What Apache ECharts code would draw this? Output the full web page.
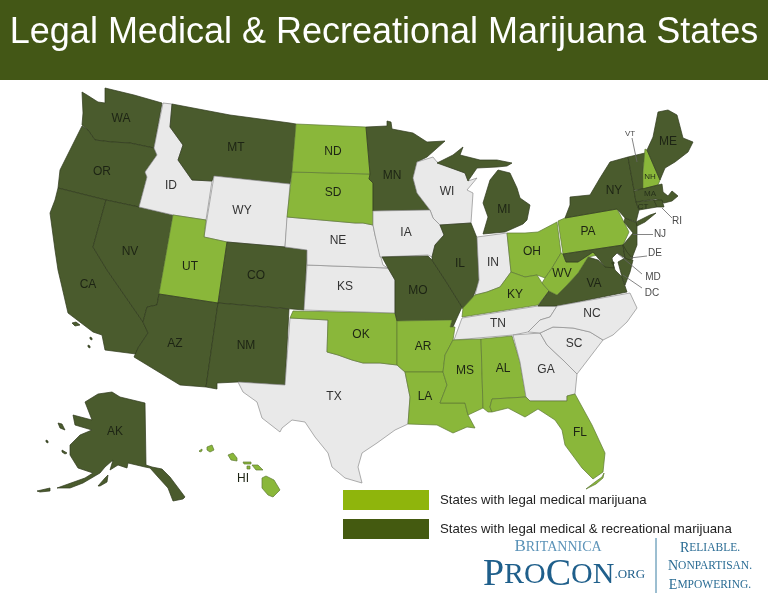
<!DOCTYPE html>
<html>
<head>
<meta charset="utf-8">
<script src="https://cdn.jsdelivr.net/npm/echarts@6/dist/echarts.min.js"></script>
<style>html,body{margin:0;background:#fff}#chart{width:768px;height:604px}</style>
</head>
<body>
<div id="chart"></div>
<script>
// Outlines, in picture pixels
const WA = [[[82,92],[87,95],[98,102],[105,103],[105,88],[134,95],[162,103],[154,148],[130,143],[112,142],[95,140],[88,130],[82,125],[83,113]]];
const OR = [[[82,126],[88,130],[95,140],[112,142],[130,143],[154,148],[157,155],[145,172],[147,177],[139,207],[106,200],[58,188],[60,170],[70,150]]];
const CA = [[[58,188],[106,200],[93,247],[107,270],[143,322],[148,333],[138,348],[136,354],[105,350],[102,335],[93,332],[68,313],[62,287],[58,270],[55,250],[50,213],[55,200]],
  [[72,323],[76,322],[80,325],[75,326]], [[90,337],[92,338],[92,340],[90,339]], [[88,345],[90,346],[90,348],[88,347]]];
const NV = [[[106,200],[139,207],[173,215],[159,294],[157,305],[147,307],[143,322],[107,270],[93,247]]];
const ID = [[[163,103],[172,104],[170,127],[183,145],[178,160],[192,180],[212,181],[206,220],[173,215],[139,207],[147,177],[145,172],[157,155],[154,148]]];
const MT = [[[172,104],[230,115],[290,123],[296,124],[292,172],[290,184],[214,176],[212,181],[192,180],[178,160],[183,145],[170,127]]];
const WY = [[[214,176],[290,184],[285,247],[227,242],[204,237]]];
const UT = [[[173,215],[206,220],[204,237],[227,242],[218,303],[159,294]]];
const CO = [[[227,242],[285,247],[307,250],[304,310],[280,308],[218,303]]];
const AZ = [[[159,294],[218,303],[206,387],[180,385],[134,357],[138,348],[148,333],[143,322],[147,307],[157,305]]];
const NM = [[[218,303],[289,309],[285,385],[238,382],[217,383],[217,389],[206,387]]];
const TX = [[[290,318],[328,320],[327,352],[338,355],[352,360],[363,363],[380,363],[397,365],[405,372],[410,397],[408,424],[395,430],[377,443],[362,453],[358,467],[362,483],[345,478],[332,467],[328,453],[315,437],[305,422],[292,420],[282,428],[280,432],[262,418],[257,402],[243,392],[238,382],[285,385]]];
const OK = [[[293,311],[395,313],[397,321],[397,365],[380,363],[363,363],[352,360],[338,355],[327,352],[328,320],[290,318]]];
const KS = [[[307,265],[388,268],[395,280],[395,313],[304,310]]];
const NE = [[[287,217],[355,223],[363,223],[373,225],[375,235],[383,265],[388,268],[307,265],[307,250],[285,247]]];
const SD = [[[292,172],[370,174],[369,179],[373,183],[373,225],[363,223],[355,223],[287,217]]];
const ND = [[[296,124],[366,127],[370,174],[292,172]]];
const MN = [[[366,127],[387,126],[387,121],[391,122],[392,129],[413,133],[427,142],[445,141],[427,157],[417,162],[413,178],[417,193],[430,210],[373,211],[373,183],[369,179],[370,174]]];
const WI = [[[417,162],[433,157],[437,162],[465,173],[468,181],[477,178],[467,190],[473,193],[471,223],[440,225],[433,218],[430,210],[417,193],[413,178]]];
const IA = [[[373,211],[430,210],[433,218],[440,225],[444,235],[435,245],[432,257],[428,255],[380,257],[375,235],[373,225]]];
const MO = [[[382,257],[428,256],[432,260],[447,283],[462,307],[457,318],[453,327],[450,327],[452,320],[397,321],[395,313],[395,280],[388,268]]];
const IL = [[[440,225],[471,223],[477,238],[479,282],[473,297],[468,307],[463,309],[462,307],[447,283],[432,260],[432,257],[435,245],[444,235]]];
const IN = [[[477,237],[507,233],[511,272],[500,287],[487,292],[475,295],[479,280]]];
const OH = [[[507,233],[525,233],[538,232],[557,222],[561,253],[552,268],[545,278],[537,275],[525,277],[511,272]]];
const KY = [[[511,272],[525,277],[537,275],[542,283],[549,291],[538,305],[462,317],[463,308],[475,295],[487,292],[500,287]]];
const TN = [[[462,318],[538,306],[557,306],[550,317],[540,320],[528,332],[513,335],[454,340]]];
const VA = [[[538,306],[549,291],[557,295],[567,285],[578,273],[588,257],[598,260],[605,267],[613,263],[615,270],[622,277],[627,292],[557,306]]];
const WV = [[[561,253],[563,254],[566,262],[578,262],[593,252],[598,255],[588,257],[578,273],[567,285],[557,295],[549,291],[542,283],[545,278],[552,268]]];
const PA = [[[558,221],[565,218],[617,209],[624,222],[629,232],[623,245],[563,254]]];
const MD = [[[563,254],[623,245],[625,258],[617,253],[612,258],[614,268],[605,267],[598,258],[593,252],[578,262],[566,262]],
  [[625,258],[633,260],[630,272],[625,285],[622,277],[618,262]]];
const DE = [[[623,245],[628,246],[633,258],[630,260],[625,258]]];
const DC = [[[612,262],[614,262],[614,264],[612,264]]];
const NJ = [[[625,218],[637,223],[637,245],[632,258],[627,252],[623,245],[633,233],[624,222]]];
const NY = [[[565,218],[570,205],[570,197],[590,195],[600,178],[610,162],[628,157],[634,190],[636,202],[639,210],[636,222],[625,218],[617,209]],
  [[636,222],[650,215],[656,213],[645,222],[637,226]]];
const VT = [[[628,157],[645,153],[643,170],[643,189],[634,190]]];
const NH = [[[645,149],[647,150],[660,180],[658,185],[643,189],[643,173]]];
const ME = [[[658,112],[668,110],[677,115],[683,138],[693,142],[688,152],[675,162],[665,168],[660,180],[647,150],[653,137]]];
const MA = [[[634,191],[658,185],[662,184],[663,192],[668,196],[672,191],[678,196],[672,201],[664,203],[656,199],[636,202]]];
const CT = [[[636,202],[654,200],[657,207],[639,210]]];
const RI = [[[654,200],[662,200],[664,207],[657,207]]];
const MI = [[[437,163],[453,155],[463,147],[460,155],[480,160],[497,160],[512,163],[507,166],[497,167],[477,168],[468,181],[465,173]],
  [[483,234],[488,217],[483,203],[490,180],[498,170],[510,173],[517,188],[520,198],[530,205],[527,220],[523,224],[505,232]]];
const AR = [[[397,321],[452,320],[450,327],[455,327],[453,340],[445,355],[443,372],[405,372],[397,365]]];
const LA = [[[405,372],[443,372],[447,385],[440,403],[465,403],[468,415],[475,428],[467,427],[453,433],[437,425],[408,424],[410,397]]];
const MS = [[[453,340],[481,339],[483,408],[468,415],[465,403],[440,403],[447,385],[443,372],[445,355]]];
const AL = [[[481,339],[512,336],[520,362],[526,397],[492,399],[490,407],[492,412],[488,412],[483,408]]];
const GA = [[[513,335],[540,333],[547,345],[563,360],[577,374],[575,394],[567,396],[567,401],[530,401],[526,397],[520,362]]];
const SC = [[[540,333],[553,327],[573,328],[590,332],[603,340],[577,374],[563,360],[547,345]]];
const NC = [[[557,306],[630,293],[637,308],[627,322],[613,335],[603,340],[590,332],[573,328],[553,327],[540,333],[528,332],[540,320],[550,317]]];
const FL = [[[492,399],[526,397],[530,401],[567,401],[567,396],[575,394],[592,425],[605,453],[603,472],[593,479],[582,468],[565,445],[562,430],[555,420],[538,409],[525,417],[508,408],[492,412],[490,407]],
  [[604,473],[603,478],[596,484],[586,489],[585,488],[595,482],[602,477]]];
const AK = [[[85,402],[98,394],[112,392],[120,397],[145,403],[146,465],[152,467],[162,469],[170,477],[185,497],[183,499],[173,501],[168,488],[158,477],[150,468],[145,467],[128,463],[127,468],[118,465],[110,470],[113,460],[105,467],[100,473],[83,483],[70,488],[57,488],[85,478],[93,473],[78,468],[70,455],[70,445],[80,435],[92,430],[75,425],[73,415],[92,420]],
  [[98,486],[105,478],[108,475],[107,482],[100,486]], [[37,491],[50,488],[50,491],[40,492]], [[62,450],[67,453],[65,454],[62,452]], [[58,423],[62,424],[65,430],[60,428]], [[46,440],[48,441],[48,443],[46,442]]];
const HI = [[[207,447],[212,445],[214,450],[210,452],[207,450]], [[199,451],[202,449],[202,451],[200,452]], [[228,455],[233,453],[237,458],[237,461],[231,460]],
  [[243,462],[251,462],[251,464],[244,464]], [[252,465],[258,465],[263,470],[262,471],[256,470]], [[247,466],[250,466],[250,469],[247,469]],
  [[262,478],[266,476],[274,480],[280,490],[273,497],[268,495],[262,488]]];

const OUTLINES = { WA, OR, CA, NV, ID, MT, WY, UT, CO, AZ, NM, TX, OK, KS, NE, SD, ND, MN, WI, IA, MO, IL, IN, OH, KY, TN, VA, WV, PA, MD, DE, DC, NJ, NY, VT, NH, ME, MA, CT, RI, MI, AR, LA, MS, AL, GA, SC, NC, FL, AK, HI };

// Status of each state
const medicalStates = ['ND', 'SD', 'UT', 'OK', 'AR', 'LA', 'MS', 'AL', 'FL', 'KY', 'OH', 'WV', 'PA', 'NH', 'HI'];
const recreationalStates = ['WA', 'OR', 'CA', 'NV', 'MT', 'CO', 'AZ', 'NM', 'MN', 'MO', 'IL', 'MI', 'VA', 'MD', 'DE', 'DC', 'NJ', 'NY', 'VT', 'ME', 'MA', 'CT', 'RI', 'AK'];

// Where each state's name sits, in picture pixels
const labelNames = ['WA','OR','CA','NV','ID','MT','WY','UT','CO','AZ','NM','ND','SD','NE','KS','OK','TX','MN','IA','MO','AR','LA','WI','IL','IN','MI','OH','KY','TN','MS','AL','GA','FL','SC','NC','VA','WV','PA','NY','ME','NH','MA','CT','AK','HI','VT','RI','NJ','DE','MD','DC'];
const labelX = [121,102,88,130,171,236,242,190,256,175,246,333,333,338,345,361,334,392,406,418,423,425,447,460,493,504,532,515,498,465,503,546,580,574,592,594,562,588,614,668,650,650,643,115,243,630,677,660,655,653,652];
const labelY = [119,172,285,252,186,148,211,267,276,344,346,152,193,241,287,335,397,176,233,291,347,397,192,264,263,210,252,295,324,371,369,370,433,344,314,284,274,232,191,142,177,194,207,432,479,134,221,234,253,277,293];
const insideLabels = ['NH', 'MA', 'CT', 'VT'];
const outsideLabels = ['RI', 'NJ', 'DE', 'MD', 'DC'];

// Leader lines for the small northeastern states
const leaderLines = [
  [[632,138],[637,162]],
  [[662,208],[672,218]],
  [[633,234],[653,234]],
  [[630,258],[647,256]],
  [[617,253],[642,274]],
  [[623,275],[642,288]],
];

const legendNames = ['States with legal medical marijuana', 'States with legal medical & recreational marijuana'];

const MEDIUM = '#8ab73a';
const DARK = '#4a5b2d';
const GREY = '#e9e9e9';

const features = Object.keys(OUTLINES).map(name => {
  const i = labelNames.indexOf(name);
  return {
    type: 'Feature',
    properties: { name, cp: [labelX[i], labelY[i]] },
    geometry: { type: 'MultiPolygon', coordinates: OUTLINES[name].map(ring => [ring]) },
  };
});
echarts.registerMap('usa', { type: 'FeatureCollection', features });

const regions = Object.keys(OUTLINES).map(name => {
  const isMedical = medicalStates.includes(name);
  const isRec = recreationalStates.includes(name);
  const inside = insideLabels.includes(name);
  const outside = outsideLabels.includes(name);
  return {
    name,
    itemStyle: {
      areaColor: isMedical ? MEDIUM : isRec ? DARK : GREY,
      borderColor: isMedical ? '#5f7a35' : isRec ? '#2f3a1c' : '#8c8c8c',
      borderWidth: 0.7,
    },
    label: {
      show: true,
      fontSize: inside ? 8 : outside ? 10 : 12,
      color: name === 'VT' || outside ? '#4a4a4a' : inside ? '#26301a' : (isMedical || isRec ? '#1d2414' : '#333'),
      fontFamily: 'Liberation Sans',
    },
  };
});

const chart = echarts.init(document.getElementById('chart'));
chart.setOption({
  animation: false,
  backgroundColor: '#fff',
  title: {
    text: 'Legal Medical & Recreational Marijuana States',
    left: 'center',
    top: 10,
    textStyle: { color: '#fff', fontSize: 36, fontWeight: 'normal', fontFamily: 'Liberation Sans' },
  },
  legend: {
    left: 338,
    top: 485,
    orient: 'vertical',
    itemWidth: 86,
    itemHeight: 20,
    itemGap: 9,
    icon: 'rect',
    selectedMode: false,
    textStyle: { fontSize: 13.2, color: '#222', fontFamily: 'Liberation Sans', padding: [0, 0, 0, 6] },
    data: legendNames,
  },
  geo: {
    map: 'usa',
    projection: { project: p => p, unproject: p => p },
    boundingCoords: [[0, 0], [768, 604]],
    left: 0,
    top: 0,
    width: 768,
    height: 604,
    roam: false,
    silent: true,
    label: { show: true },
    itemStyle: { areaColor: GREY },
    regions,
  },
  series: [
    { type: 'scatter', name: legendNames[0], coordinateSystem: 'geo', data: [], itemStyle: { color: '#8fb50c', opacity: 1 } },
    { type: 'scatter', name: legendNames[1], coordinateSystem: 'geo', data: [], itemStyle: { color: '#445a10', opacity: 1 } },
    {
      type: 'lines',
      coordinateSystem: 'geo',
      silent: true,
      symbol: 'none',
      lineStyle: { color: '#666', width: 0.8, opacity: 1, curveness: 0 },
      data: leaderLines.map(coords => ({ coords })),
      z: 5,
    },
  ],
  graphic: [
    { type: 'rect', shape: { x: 0, y: 0, width: 768, height: 80 }, style: { fill: '#435716' }, z: 0 },
    { type: 'line', shape: { x1: 656, y1: 538, x2: 656, y2: 593 }, style: { stroke: '#3b7ea3', lineWidth: 1 } },
    {
      type: 'text', x: 558, y: 547, z: 3,
      style: {
        text: '{a|B}{b|RITANNICA}', align: 'center', verticalAlign: 'middle',
        rich: {
          a: { fontFamily: 'Liberation Serif', fontSize: 17, fill: '#5c93b8' },
          b: { fontFamily: 'Liberation Serif', fontSize: 14, fill: '#5c93b8' },
        },
      },
    },
    {
      type: 'text', x: 564, y: 575, z: 3,
      style: {
        text: '{a|P}{b|RO}{a|C}{b|ON}{c|.ORG}', align: 'center', verticalAlign: 'middle',
        rich: {
          a: { fontFamily: 'Liberation Serif', fontSize: 38, fill: '#1f5f8b' },
          b: { fontFamily: 'Liberation Serif', fontSize: 30, fill: '#1f5f8b' },
          c: { fontFamily: 'Liberation Serif', fontSize: 13, fill: '#1f5f8b' },
        },
      },
    },
    ...[['R', 'ELIABLE.', 548], ['N', 'ONPARTISAN.', 566], ['E', 'MPOWERING.', 585]].map(([first, rest, y]) => ({
      type: 'text', x: 710, y, z: 3,
      style: {
        text: `{a|${first}}{b|${rest}}`, align: 'center', verticalAlign: 'middle',
        rich: {
          a: { fontFamily: 'Liberation Serif', fontSize: 14, fill: '#2a6c94' },
          b: { fontFamily: 'Liberation Serif', fontSize: 11.5, fill: '#2a6c94' },
        },
      },
    })),
  ],
});
</script>
</body>
</html>
